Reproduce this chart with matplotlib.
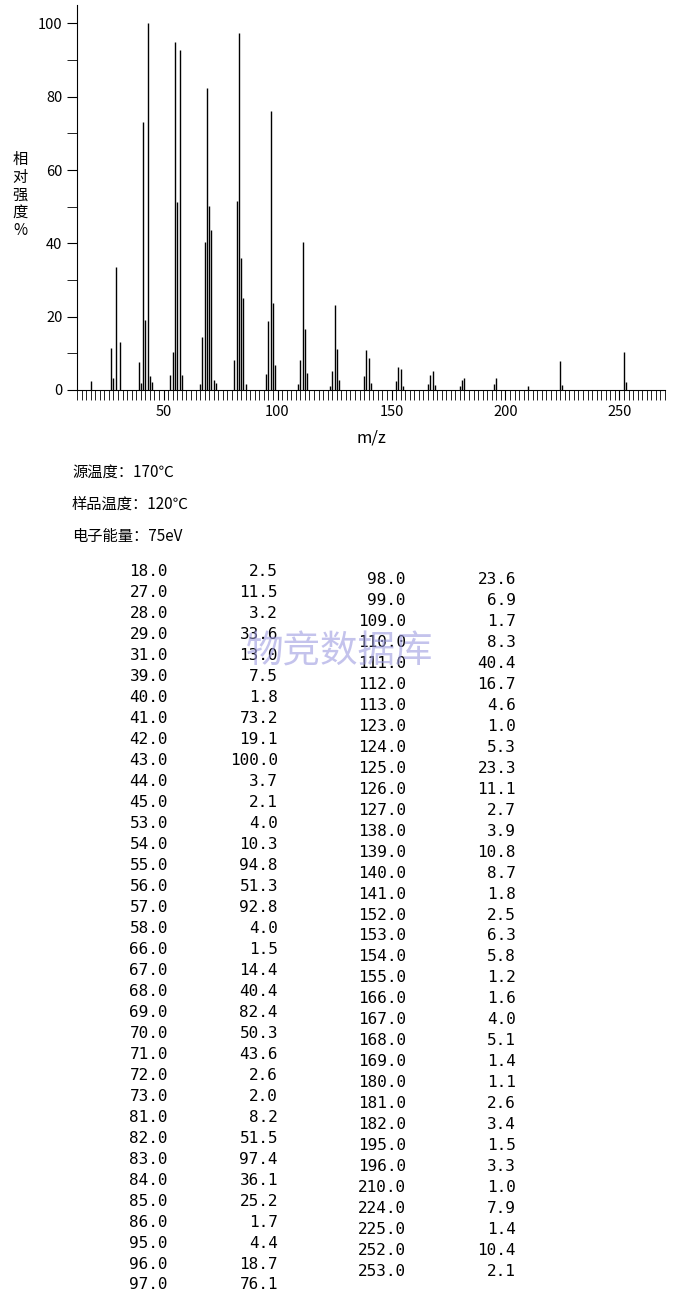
import matplotlib
matplotlib.use('Agg')
import matplotlib.pyplot as plt
from matplotlib.ticker import MultipleLocator

plt.rcParams['font.family'] = ['Noto Sans CJK SC', 'DejaVu Sans']

mz = [18, 27, 28, 29, 31, 39, 40, 41, 42, 43, 44, 45, 53, 54, 55, 56, 57, 58,
      66, 67, 68, 69, 70, 71, 72, 73, 81, 82, 83, 84, 85, 86, 95, 96, 97,
      98, 99, 109, 110, 111, 112, 113, 123, 124, 125, 126, 127, 138, 139, 140,
      141, 152, 153, 154, 155, 166, 167, 168, 169, 180, 181, 182, 195, 196,
      210, 224, 225, 252, 253]
intensity = [2.5, 11.5, 3.2, 33.6, 13.0, 7.5, 1.8, 73.2, 19.1, 100.0, 3.7, 2.1,
             4.0, 10.3, 94.8, 51.3, 92.8, 4.0, 1.5, 14.4, 40.4, 82.4, 50.3, 43.6,
             2.6, 2.0, 8.2, 51.5, 97.4, 36.1, 25.2, 1.7, 4.4, 18.7, 76.1,
             23.6, 6.9, 1.7, 8.3, 40.4, 16.7, 4.6, 1.0, 5.3, 23.3, 11.1, 2.7,
             3.9, 10.8, 8.7, 1.8, 2.5, 6.3, 5.8, 1.2, 1.6, 4.0, 5.1, 1.4, 1.1,
             2.6, 3.4, 1.5, 3.3, 1.0, 7.9, 1.4, 10.4, 2.1]
info = ["源温度：170℃", "样品温度：120℃", "电子能量：75eV"]

W, H = 680, 1304
fig = plt.figure(figsize=(W / 100, H / 100), dpi=100)
ax = fig.add_axes([77 / W, 1 - 390 / H, (665 - 77) / W, (390 - 5) / H])
ax.vlines(mz, 0, intensity, color='black', linewidth=1)
ax.set_xlim(12, 270)
ax.set_ylim(0, 105)
ax.xaxis.set_major_locator(MultipleLocator(50))
ax.xaxis.set_minor_locator(MultipleLocator(2))
ax.yaxis.set_major_locator(MultipleLocator(20))
ax.yaxis.set_minor_locator(MultipleLocator(10))
ax.tick_params(which='both', direction='out', labelsize=10.5, length=7)
for s in ['top', 'right']:
    ax.spines[s].set_visible(False)
ax.set_xlabel('m/z', fontsize=12, labelpad=8)
fig.text(20 / W, 1 - 195 / H, '相\n对\n强\n度\n%', fontsize=11, ha='center', va='center',
         linespacing=1.05)

for i, t in enumerate(info):
    fig.text(72 / W, 1 - (472 + 32 * i) / H, t, fontsize=11, va='center')

mono = ['DejaVu Sans Mono']
split = 35
for i, (m, v) in enumerate(zip(mz, intensity)):
    if i < split:
        y = 572 + 20.97 * i
        xm, xv = 168, 278
    else:
        y = 580 + 20.94 * (i - split)
        xm, xv = 406, 516
    fig.text(xm / W, 1 - y / H, f"{m:.1f}", family=mono, fontsize=11.5, ha='right', va='center')
    fig.text(xv / W, 1 - y / H, f"{v:.1f}", family=mono, fontsize=11.5, ha='right', va='center')

fig.text(340 / W, 1 - 652 / H, '物竞数据库', fontsize=27, color='#9d9be0', alpha=0.6,
         ha='center', va='center')

fig.savefig('out.png', dpi=100)
